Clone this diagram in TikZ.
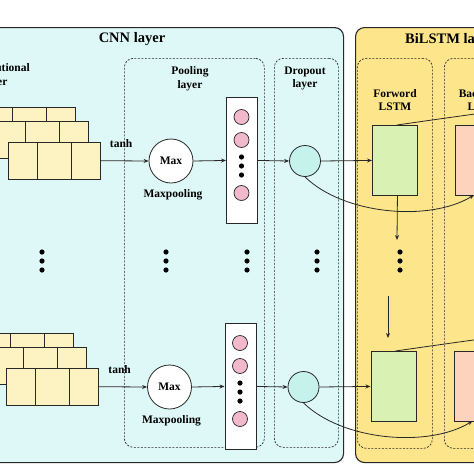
\documentclass[tikz,border=0pt]{standalone}
\usepackage{fontspec}
\setmainfont{Liberation Serif}
\usetikzlibrary{arrows.meta,calc}
\definecolor{cnnfill}{RGB}{221,248,246}
\definecolor{lstmfill}{RGB}{253,229,140}
\definecolor{cellfill}{RGB}{253,242,194}
\definecolor{pinkfill}{RGB}{242,184,204}
\definecolor{dropfill}{RGB}{198,242,238}
\definecolor{fwfill}{RGB}{217,242,179}
\definecolor{bwfill}{RGB}{253,211,190}
\definecolor{edge}{RGB}{40,40,40}
\tikzset{
  bigbox/.style={draw=edge, line width=1.1pt, rounded corners=9pt, inner sep=0pt, anchor=north west},
  dashbox/.style={draw=edge, dashed, dash pattern=on 2pt off 1.5pt, line width=0.7pt, rounded corners=9pt, inner sep=0pt, anchor=north west},
  cellbox/.style={draw=edge, line width=0.8pt, fill=cellfill},
  conn/.style={draw=edge, line width=0.8pt, -{Stealth[length=5pt,width=4pt]}},
  plain/.style={draw=edge, line width=0.8pt},
  circnode/.style={circle, draw=edge, line width=0.8pt, inner sep=0pt},
  pinkdot/.style={circle, draw=edge, line width=0.7pt, fill=pinkfill, minimum size=15pt, inner sep=0pt},
  blackdot/.style={circle, fill=black, minimum size=5.2pt, inner sep=0pt},
  lstmbox/.style={draw=edge, line width=0.9pt, anchor=north west, inner sep=0pt, minimum width=45pt, minimum height=70pt},
  lbl/.style={align=center, inner sep=0pt}
}
\begin{document}
\begin{tikzpicture}[x=1pt,y=-1pt, font=\bfseries\fontsize{11.5}{13.5}\selectfont]
\useasboundingbox (0,0) rectangle (474,474);
\clip (0,0) rectangle (474,474);
\fill[white] (0,0) rectangle (474,474);
% big boxes
\node[bigbox, fill=cnnfill, minimum width=363pt, minimum height=435pt] (cnn) at (-20,27) {};
\node[bigbox, fill=lstmfill, minimum width=160pt, minimum height=435pt] (bilstm) at (355,27) {};
% dashed boxes
\node[dashbox, minimum width=140pt, minimum height=389pt] (pool) at (124,58) {};
\node[dashbox, minimum width=64pt, minimum height=389pt] (drop) at (274,58) {};
\node[dashbox, minimum width=75pt, minimum height=390pt] (fwd) at (357,58) {};
\node[dashbox, minimum width=80pt, minimum height=390pt] (bwd) at (444,58) {};
% titles
\node[lbl, font=\bfseries\fontsize{14.5}{16}\selectfont] (cnnT) at (132,39) {CNN layer};
\node[lbl, anchor=west, font=\bfseries\fontsize{14.5}{16}\selectfont] (lstmT) at (405,40) {BiLSTM layer};
\node[lbl] (convT) at (-5,76) {Convolutional\\layer};
\node[lbl] (poolT) at (190,78.5) {Pooling\\layer};
\node[lbl] (dropT) at (305,78.5) {Dropout\\layer};
\node[lbl] (fwT) at (395,100) {Forword\\LSTM};
\node[lbl] (bwT) at (484,100) {Backword\\LSTM};
% rows
\foreach \r/\dx/\dy in {1/0/0, 2/-1.5/226}{
  \begin{scope}[shift={(\dx,\dy)}]
    \foreach \lx/\ly in {-17/107, -4/121, 8/142}{
      \draw[cellbox] (\lx,\ly) rectangle ++(92,37);
      \draw[plain] (\lx+29,\ly) -- ++(0,37);
      \draw[plain] (\lx+63,\ly) -- ++(0,37);
    }
    \node[anchor=north west, minimum width=92pt, minimum height=37pt, inner sep=0pt] (conv\r) at (8,142) {};
    \node[circnode, fill=white, minimum size=44pt] (max\r) at (171,161) {Max};
    \node[lbl] (mp\r) at (173,195) {Maxpooling};
    \node[draw=edge, line width=0.9pt, fill=white, anchor=north west, inner sep=0pt, minimum width=31pt, minimum height=126pt] (col\r) at (226,97) {};
    \node[pinkdot] (p\r a) at (241.5,117) {};
    \node[pinkdot] (p\r b) at (241.5,140) {};
    \node[pinkdot] (p\r c) at (241.5,193) {};
    \node[blackdot] (d\r a) at (241.5,157) {};
    \node[blackdot] (d\r b) at (241.5,166) {};
    \node[blackdot] (d\r c) at (241.5,175) {};
    \node[circnode, fill=dropfill, minimum size=31pt] (do\r) at (305,161) {};
    \node[lstmbox, fill=fwfill] (fw\r) at (372,125) {};
    \node[lstmbox, fill=bwfill] (bw\r) at (455,125) {};
    \coordinate (bwin\r) at (474,195);
    \coordinate (out\r) at (490,112);
    \draw[conn] (conv\r.east) -- node[pos=.43, above=13pt, inner sep=0pt] (tanh\r) {tanh} (max\r.west);
    \draw[conn] (max\r.east) -- (col\r.west);
    \draw[conn] (col\r.east) -- (do\r.west);
    \draw[conn] (do\r.east) -- (fw\r.west);
    \draw[conn] (do\r.south) .. controls +(39,38) and +(-44,27) .. (bwin\r);
    \draw[plain] ([xshift=2pt]fw\r.north) .. controls +(35,-5) and +(-30,4) .. (out\r);
  \end{scope}
}
% vertical arrows between rows
\coordinate (fwdown) at (397,240);
\coordinate (a2s) at (388,296);
\coordinate (a2e) at (388,338);
\draw[conn] ([xshift=2.5pt]fw1.south) -- (fwdown);
\draw[conn] (a2s) -- (a2e);
% vertical ellipses
\foreach \x [count=\i] in {42,166,247,317,400}{
  \node[blackdot] (e\i a) at (\x,252) {};
  \node[blackdot] (e\i b) at (\x,261) {};
  \node[blackdot] (e\i c) at (\x,270) {};
}
\end{tikzpicture}
\end{document}
